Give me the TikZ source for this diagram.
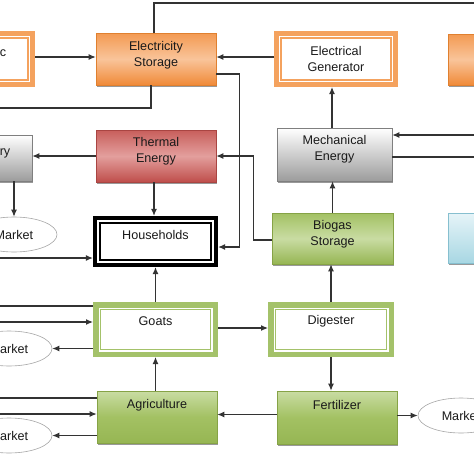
\documentclass[tikz,border=0pt]{standalone}
\usepackage{fontspec}
\setmainfont{Liberation Sans}
\usetikzlibrary{arrows.meta,shadows,shapes.geometric}
\definecolor{txtc}{HTML}{1A1A1A}
\definecolor{linec}{HTML}{333333}
\definecolor{orT}{HTML}{F39A52}
\definecolor{orM}{HTML}{F9C49A}
\definecolor{orB}{HTML}{F08A38}
\definecolor{orD}{HTML}{E0802F}
\definecolor{orBand}{HTML}{F4A25E}
\definecolor{rdT}{HTML}{C85E5B}
\definecolor{rdM}{HTML}{E39F9D}
\definecolor{rdB}{HTML}{BF4E4B}
\definecolor{rdD}{HTML}{A94542}
\definecolor{gyT}{HTML}{FFFFFF}
\definecolor{gyB}{HTML}{9C9C9C}
\definecolor{gyD}{HTML}{7F7F7F}
\definecolor{grT}{HTML}{A3C163}
\definecolor{grM}{HTML}{C9DCA3}
\definecolor{grB}{HTML}{96B653}
\definecolor{grD}{HTML}{86A346}
\definecolor{grBand}{HTML}{A4C26A}
\definecolor{blT}{HTML}{E6F4F8}
\definecolor{blB}{HTML}{A8D7E3}
\definecolor{blD}{HTML}{86BFCF}
\begin{document}
\begin{tikzpicture}[x=1pt,y=-1pt,
  box/.style={rectangle, inner sep=0pt},
  shd/.style={drop shadow={shadow xshift=1pt, shadow yshift=-1.8pt, fill=black, opacity=0.4}},
  orbox/.style={box, shd, draw=orD, line width=0.6pt, top color=orT, bottom color=orB, middle color=orM},
  redbox/.style={box, shd, draw=rdD, line width=0.6pt, top color=rdT, bottom color=rdB, middle color=rdM},
  graybox/.style={box, shd, draw=gyD, line width=0.6pt, top color=gyT, bottom color=gyB},
  grbox/.style={box, shd, draw=grD, line width=0.6pt, top color=grT, bottom color=grB, middle color=grM},
  grboxb/.style={box, shd, draw=grD, line width=0.6pt, top color=grM, bottom color=grB, middle color=grT},
  bluebox/.style={box, shd, draw=blD, line width=0.6pt, top color=blT, bottom color=blB},
  obox/.style={box, draw=orBand, line width=5pt, fill=white},
  gdbl/.style={box, draw=grBand, line width=5.5pt, fill=white},
  hhbox/.style={box, draw=black, line width=4.3pt, fill=white},
  oin/.style={draw=orBand, line width=1.1pt},
  gin/.style={draw=grBand, line width=1.2pt},
  hin/.style={draw=black, line width=1.7pt},
  txt/.style={font=\fontsize{12.6}{16}\selectfont, text=txtc, align=center, inner sep=0pt},
  mkt/.style={ellipse, draw=gray!70, line width=0.6pt, fill=white, minimum width=86pt, minimum height=35pt, inner sep=0pt, font=\fontsize{12.6}{16}\selectfont, text=txtc},
  line/.style={draw=linec, line width=1.1pt},
  arr/.style={line, -{Latex[length=7pt,width=6pt]}}
]
\useasboundingbox (0,0) rectangle (474,474);
% ---------- boxes ----------
\node[obox, minimum width=119pt, minimum height=51pt] (pv) at (-27,59) {};
\draw[oin] ([shift={(7,7)}]pv.north west) rectangle ([shift={(-7,-7)}]pv.south east);
\node[obox, minimum width=119pt, minimum height=51pt] (gen) at (336,59) {};
\draw[oin] ([shift={(7,7)}]gen.north west) rectangle ([shift={(-7,-7)}]gen.south east);
\node[orbox, minimum width=120pt, minimum height=52pt] (es) at (156,59) {};
\node[orbox, minimum width=120pt, minimum height=51pt] (ro) at (508,59.5) {};
\node[graybox, minimum width=115pt, minimum height=46pt] (ind) at (-25.5,158) {};
\node[redbox, minimum width=120pt, minimum height=52pt] (th) at (156,156) {};
\node[hhbox, minimum width=121pt, minimum height=47pt] (hh) at (155.5,241.5) {};
\draw[hin] ([shift={(7.3,7.3)}]hh.north west) rectangle ([shift={(-7.3,-7.3)}]hh.south east);
\node[graybox, minimum width=115pt, minimum height=53pt] (me) at (334.5,154.5) {};
\node[grbox, minimum width=121pt, minimum height=51pt] (bs) at (332.5,238.5) {};
\node[bluebox, minimum width=120pt, minimum height=50pt] (lb) at (508,238) {};
\node[gdbl, minimum width=119.5pt, minimum height=49.5pt] (goats) at (155.5,329.5) {};
\draw[gin] ([shift={(7.5,7.5)}]goats.north west) rectangle ([shift={(-7.5,-7.5)}]goats.south east);
\node[gdbl, minimum width=120.5pt, minimum height=49.5pt] (dig) at (331,329.5) {};
\draw[gin] ([shift={(7.5,7.5)}]dig.north west) rectangle ([shift={(-7.5,-7.5)}]dig.south east);
\node[grboxb, minimum width=120pt, minimum height=52pt] (agr) at (157,417) {};
\node[grboxb, minimum width=120pt, minimum height=53pt] (fer) at (337,417.5) {};
% ---------- markets ----------
\node[mkt] (m1) at (14,234.5) {Market};
\node[mkt] (m2) at (9,348.5) {Market};
\node[mkt] (m3) at (9,435.5) {Market};
\node[mkt] (m4) at (461,415.5) {Market};
% ---------- texts ----------
\node[txt, anchor=east] (pv-t) at (6.5,52) {Photovoltaic};
\node[txt] (es-t) at (156,55.5) {Electricity\\Storage};
\node[txt] (gen-t) at (336,58.5) {Electrical\\Generator};
\node[txt, anchor=east] (ind-t) at (10.5,152) {Industry};
\node[txt] (th-t) at (156,151) {Thermal\\Energy};
\node[txt] (hh-t) at (155.5,235) {Households};
\node[txt] (me-t) at (334.5,149.5) {Mechanical\\Energy};
\node[txt] (bs-t) at (332.5,234) {Biogas\\Storage};
\node[txt] (goats-t) at (155.5,321.5) {Goats};
\node[txt] (dig-t) at (331,321.5) {Digester};
\node[txt] (agr-t) at (157,405) {Agriculture};
\node[txt] (fer-t) at (337,405) {Fertilizer};
% ---------- free ends ----------
\coordinate (topR) at (480,3);
\coordinate (leftA) at (-10,108);
\coordinate (l10) at (-10,258);
\coordinate (r13) at (480,135);
\coordinate (r13b) at (480,157);
\coordinate (lg1) at (-10,306);
\coordinate (lg2) at (-10,322);
\coordinate (la1) at (-10,398);
\coordinate (la2) at (-10,414);
\coordinate (x14) at (14,0);
% ---------- connectors ----------
\draw[arr] ([yshift=2pt]pv.east) -- ([yshift=2pt]es.west);
\draw[line] ([xshift=-2pt]es.north) |- (topR);
\draw[arr] ([yshift=2pt]gen.west) -- ([yshift=2pt]es.east);
\draw[arr] ([yshift=-15pt]es.east) -- ++(23,0) |- ([yshift=-5.5pt]hh.east);
\draw[line] ([xshift=-5pt]es.south) |- (leftA);
\draw[arr] (th.west) -- (th.west -| ind.east);
\draw[arr] ([yshift=-1.5pt]bs.west) -- ++(-18,0) |- (th.east);
\path ([xshift=-2pt]th.south) coordinate (a8);
\draw[arr] (a8) -- (a8 |- hh.north);
\draw[arr] (x14 |- ind.south) -- (x14 |- m1.north);
\draw[arr] (l10) -- (l10 -| hh.west);
\draw[arr] (goats.north) -- (hh.south);
\path ([xshift=-2.5pt]me.north) coordinate (a12);
\draw[arr] (a12) -- (a12 |- gen.south);
\draw[arr] (r13) -- (r13 -| me.east);
\draw[line] (r13b -| me.east) -- (r13b);
\draw[arr] (bs.north) -- (bs.north |- me.south);
\draw[arr] (dig.north) -- (dig.north |- bs.south);
\path ([yshift=1.5pt]goats.east) coordinate (a16);
\draw[arr] (a16) -- (a16 -| dig.west);
\draw[arr] (dig.south) -- (dig.south |- fer.north);
\path ([yshift=3pt]fer.west) coordinate (a18);
\draw[arr] (a18) -- (a18 -| agr.east);
\draw[arr] (m4.west -| fer.east) -- (m4.west);
\draw[arr] (goats.south |- agr.north) -- (goats.south);
\draw[line] (lg1) -- (lg1 -| goats.west);
\draw[arr] (lg2) -- (lg2 -| goats.west);
\draw[arr] (goats.west |- m2.east) -- (m2.east);
\draw[line] (la1) -- (la1 -| agr.west);
\draw[arr] (la2) -- (la2 -| agr.west);
\draw[arr] (agr.west |- m3.east) -- (m3.east);
\end{tikzpicture}
\end{document}
